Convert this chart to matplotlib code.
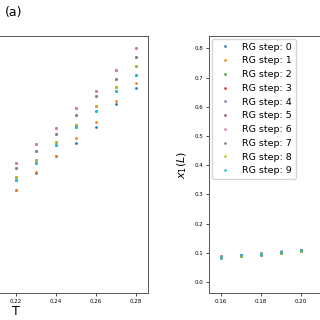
import numpy as np
import matplotlib
matplotlib.use("Agg")
import matplotlib.pyplot as plt

# -----------------------------
# DATA
# -----------------------------
steps = list(range(10))

# left panel (a): only the T >= 0.22 part is visible
T_left = [0.22, 0.23, 0.24, 0.25, 0.26, 0.27, 0.28]
# six visible levels per column, top to bottom
lvl0 = [0.507, 0.579, 0.644, 0.719, 0.788, 0.868, 0.952]
lvl1 = [0.486, 0.553, 0.619, 0.695, 0.767, 0.835, 0.917]
lvl2 = [0.453, 0.520, 0.588, 0.654, 0.728, 0.803, 0.883]
lvl3 = [0.440, 0.507, 0.576, 0.645, 0.709, 0.786, 0.848]
lvl4 = [0.403, 0.472, 0.535, 0.602, 0.665, 0.748, 0.818]
lvl5 = [0.403, 0.466, 0.535, 0.586, 0.647, 0.735, 0.800]
left_levels = [lvl5, lvl4, lvl3, lvl2, lvl1, lvl0, lvl0, lvl1, lvl2, lvl3]

# right panel: x_1(L), visible part only
T_right = [0.16, 0.17, 0.18, 0.19, 0.20]
x1_base = [0.086, 0.091, 0.096, 0.102, 0.108]
x1_offset = [-0.003, -0.002, -0.001, 0.0, 0.001, 0.002, 0.003, 0.001, -0.001, 0.0]

colors = plt.rcParams['axes.prop_cycle'].by_key()['color']

# -----------------------------
# FIGURE (left panel is partly off the canvas, as in the crop)
# -----------------------------
fig = plt.figure(figsize=(3.2, 3.2), dpi=100)
ax1 = fig.add_axes([-0.3625, 0.084, 0.825, 0.803])
ax2 = fig.add_axes([0.653, 0.084, 0.825, 0.803])

for s in steps:
    ax1.plot(T_left, left_levels[s], '.', ms=2.2, color=colors[s], alpha=0.85)
    ax2.plot(T_right, np.array(x1_base) + x1_offset[s], '.', ms=2.2,
             color=colors[s], alpha=0.85, label=f"RG step: {s}")

for ax in (ax1, ax2):
    ax.set_xlim(0.154, 0.286)
    ax.tick_params(labelsize=4, length=2, width=0.5, pad=2)
    for sp in ax.spines.values():
        sp.set_linewidth(0.7)
        sp.set_color('#555555')

ax1.set_ylim(0, 1)
ax1.set_xticks([0.22, 0.24, 0.26, 0.28])
ax1.set_yticks([])
ax1.set_xlabel("T", fontsize=9, labelpad=1)

ax2.set_ylim(-0.038, 0.842)
ax2.set_xticks([0.16, 0.18, 0.20])
ax2.set_yticks([0.0, 0.1, 0.2, 0.3, 0.4, 0.5, 0.6, 0.7, 0.8])
ax2.set_ylabel("$x_1(L)$", fontsize=8, labelpad=4)
ax2.legend(loc='upper left', fontsize=6.8, borderaxespad=0.3,
           markerscale=0.9, framealpha=0.8)

fig.text(0.015, 0.96, "(a)", fontsize=9, va='center')

plt.savefig("out.png", dpi=100)
